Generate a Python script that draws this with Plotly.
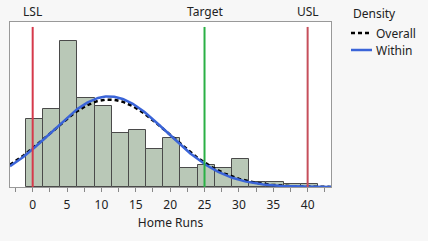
import numpy as np
import plotly.graph_objects as go

# Histogram data (bin width 2.5, starting at -1)
bin_starts = [-1, 1.5, 4, 6.5, 9, 11.5, 14, 16.5, 19, 21.5, 24, 26.5, 29, 31.5, 34, 36.5, 39]
counts = [25, 29, 54, 33, 30, 20, 21, 14, 18, 7, 8, 7, 10.5, 2, 2, 1, 1]
bin_width = 2.5

# Fitted normal parameters
mean_overall = 11.1
sigma_overall = 8.7
mean_within = 11.1
sigma_within = 8.4

# Spec limits
spec_names = ["LSL", "Target", "USL"]
spec_values = [0, 25, 40]
spec_colors = ["#d6394b", "#2ab045", "#c64f5b"]

tick_vals = [0, 5, 10, 15, 20, 25, 30, 35, 40]

legend_title = "Density"
legend_names = ["Overall", "Within"]
legend_colors = ["black", "#3a64d8"]
legend_dashes = ["4px,3px", "solid"]

N = sum(counts)
xs = np.linspace(-3.3, 43.4, 300)


def normal_curve(mu, sd):
    return N * bin_width * np.exp(-0.5 * ((xs - mu) / sd) ** 2) / (sd * np.sqrt(2 * np.pi))


fig = go.Figure()
fig.add_trace(go.Bar(
    x=[b + bin_width / 2 for b in bin_starts], y=counts, width=bin_width,
    marker=dict(color="#b9c8b7", line=dict(color="#4a4a4a", width=1)),
    showlegend=False, hoverinfo="skip"))
fig.add_trace(go.Scatter(
    x=xs, y=normal_curve(mean_overall, sigma_overall), mode="lines",
    line=dict(color=legend_colors[0], width=2.5, dash=legend_dashes[0]),
    name=legend_names[0], showlegend=False))
fig.add_trace(go.Scatter(
    x=xs, y=normal_curve(mean_within, sigma_within), mode="lines",
    line=dict(color=legend_colors[1], width=2.5, dash=legend_dashes[1]),
    name=legend_names[1], showlegend=False))

for name, v, c in zip(spec_names, spec_values, spec_colors):
    fig.add_shape(type="line", x0=v, x1=v, yref="paper", y0=0, y1=0.97,
                  line=dict(color=c, width=2), layer="above")
    fig.add_annotation(x=v, y=1.0, yref="paper", text=name, showarrow=False,
                       yanchor="bottom", font=dict(size=12, color="#222"), yshift=0)

# Manual legend (pixel layout converted to paper coords)
W, H = 428, 241
ml, mr, mt, mb = 10, 97, 22, 54
pw, ph = W - ml - mr, H - mt - mb


def px(xp):
    return (xp - ml) / pw


def py(yp):
    return (H - mb - yp) / ph


fig.add_annotation(x=px(351), y=py(13), xref="paper", yref="paper", text=legend_title,
                   showarrow=False, xanchor="left", yanchor="middle", font=dict(size=12))
for i, (nm, col, dash) in enumerate(zip(legend_names, legend_colors, legend_dashes)):
    yy = 33 + i * 17
    fig.add_shape(type="line", xref="paper", yref="paper", x0=px(351), x1=px(372),
                  y0=py(yy), y1=py(yy), line=dict(color=col, width=2.5, dash=dash))
    fig.add_annotation(x=px(374), y=py(yy), xref="paper", yref="paper", text=nm,
                       showarrow=False, xanchor="left", yanchor="middle", font=dict(size=12))

fig.update_layout(
    width=W, height=H,
    margin=dict(l=ml, r=mr, t=mt, b=mb, autoexpand=False),
    paper_bgcolor="#f7f7f7", plot_bgcolor="white",
    font=dict(family="Noto Sans, Open Sans, sans-serif", size=12, color="#222"),
    bargap=0,
    showlegend=False,
    xaxis=dict(range=[-3.3, 43.4], tickvals=tick_vals, ticks="outside", ticklen=4,
               tickcolor="#888", showgrid=False, zeroline=False,
               showline=True, linecolor="#999", mirror=True, ticklabelstandoff=3,
               minor=dict(dtick=2.5, tick0=0, ticks="outside", ticklen=4, tickcolor="#888"),
               title=dict(text="Home Runs", standoff=6, font=dict(size=12))),
    yaxis=dict(range=[0, 61.1], showticklabels=False, showgrid=False, zeroline=False,
               showline=True, linecolor="#999", mirror=True, ticks=""),
)

fig.write_html("out.html")
